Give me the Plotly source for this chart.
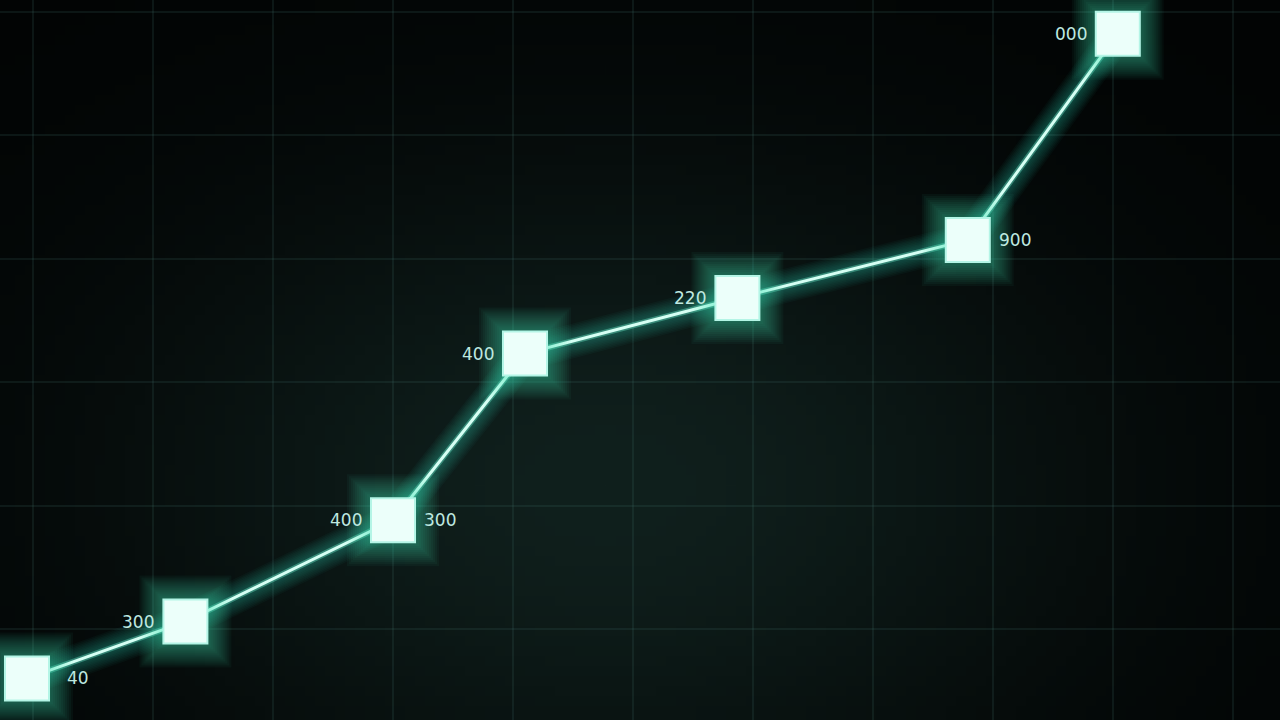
import base64, struct, zlib
import numpy as np
import plotly.graph_objects as go

# ---- data ----
x_vals = [-0.05, 1.27, 3.0, 4.1, 5.87, 7.79, 9.04]
y_vals = [60, 106, 188, 323, 368, 415, 582]
left_labels = ["", "300", "400", "400", "220", "", "000"]
right_labels = ["40", "", "300", "", "", "900", ""]

# ---- background gradient image (decoration) ----
def png_uri(arr):
    h, w, _ = arr.shape
    raw = b"".join(b"\x00" + arr[i].tobytes() for i in range(h))
    def chunk(t, d):
        c = struct.pack(">I", len(d)) + t + d
        return c + struct.pack(">I", zlib.crc32(t + d) & 0xffffffff)
    png = b"\x89PNG\r\n\x1a\n" + chunk(b"IHDR", struct.pack(">IIBBBBB", w, h, 8, 2, 0, 0, 0))
    png += chunk(b"IDAT", zlib.compress(raw, 9)) + chunk(b"IEND", b"")
    return "data:image/png;base64," + base64.b64encode(png).decode()

W, H = 128, 72
yy, xx = np.mgrid[0:H, 0:W]
px = xx * 10.0
py = yy * 10.0
g = np.exp(-(((px - 600) / 480) ** 2 + ((py - 480) / 320) ** 2))
base = np.array([2, 4, 4], float)
glow = np.array([14, 28, 25], float)
img = base[None, None, :] + g[..., None] * glow[None, None, :]
img = np.clip(img, 0, 255).astype(np.uint8)
bg_uri = png_uri(img)

fig = go.Figure()

# soft glow for line
for w in range(34, 4, -3):
    fig.add_trace(go.Scatter(x=x_vals, y=y_vals, mode="lines",
                             line=dict(color="rgba(70,225,195,0.035)", width=w),
                             hoverinfo="skip", showlegend=False))
fig.add_trace(go.Scatter(x=x_vals, y=y_vals, mode="lines",
                         line=dict(color="rgba(120,245,215,0.35)", width=6),
                         hoverinfo="skip", showlegend=False))
fig.add_trace(go.Scatter(x=x_vals, y=y_vals, mode="lines",
                         line=dict(color="#d6fff4", width=3),
                         hoverinfo="skip", showlegend=False))

# soft glow for markers
for s in range(92, 46, -4):
    fig.add_trace(go.Scatter(x=x_vals, y=y_vals, mode="markers",
                             marker=dict(symbol="square", size=s,
                                         color="rgba(80,225,195,0.045)",
                                         line=dict(width=0)),
                             hoverinfo="skip", showlegend=False))
fig.add_trace(go.Scatter(x=x_vals, y=y_vals, mode="markers",
                         marker=dict(symbol="square", size=44, color="#ecfffa",
                                     line=dict(color="#b4f5e6", width=2)),
                         showlegend=False))

font = dict(family="DejaVu Sans", size=17, color="#bfe9e0")
for i, (xv, yv, lt, rt) in enumerate(zip(x_vals, y_vals, left_labels, right_labels)):
    if lt:
        fig.add_annotation(x=xv, y=yv, text=lt, showarrow=False, xanchor="right",
                           xshift=-29, font=font)
    if rt:
        fig.add_annotation(x=xv, y=yv, text=rt, showarrow=False, xanchor="left",
                           xshift=38 if i == 0 else 29, font=font)

fig.add_layout_image(dict(source=bg_uri, xref="paper", yref="paper", x=0, y=1,
                          sizex=1, sizey=1, sizing="stretch", layer="below"))

grid = "rgba(70,120,110,0.16)"
fig.update_layout(
    width=1280, height=720,
    margin=dict(l=0, r=0, t=0, b=0),
    paper_bgcolor="#030505", plot_bgcolor="rgba(0,0,0,0)",
    xaxis=dict(range=[-33 / 120, (1280 - 33) / 120], dtick=1, tick0=0,
               showgrid=True, gridcolor=grid, gridwidth=1.5,
               showticklabels=False, zeroline=False, showline=False),
    yaxis=dict(range=[(752.5 - 720) / 1.235, 752.5 / 1.235], dtick=100, tick0=0,
               showgrid=True, gridcolor=grid, gridwidth=1.5,
               showticklabels=False, zeroline=False, showline=False),
    showlegend=False,
)

fig.write_html("out.html",
               config={"displayModeBar": False},
               post_script="document.body.style.margin='0';"
                           "document.body.style.background='#030505';"
                           "document.body.style.overflow='hidden';")
